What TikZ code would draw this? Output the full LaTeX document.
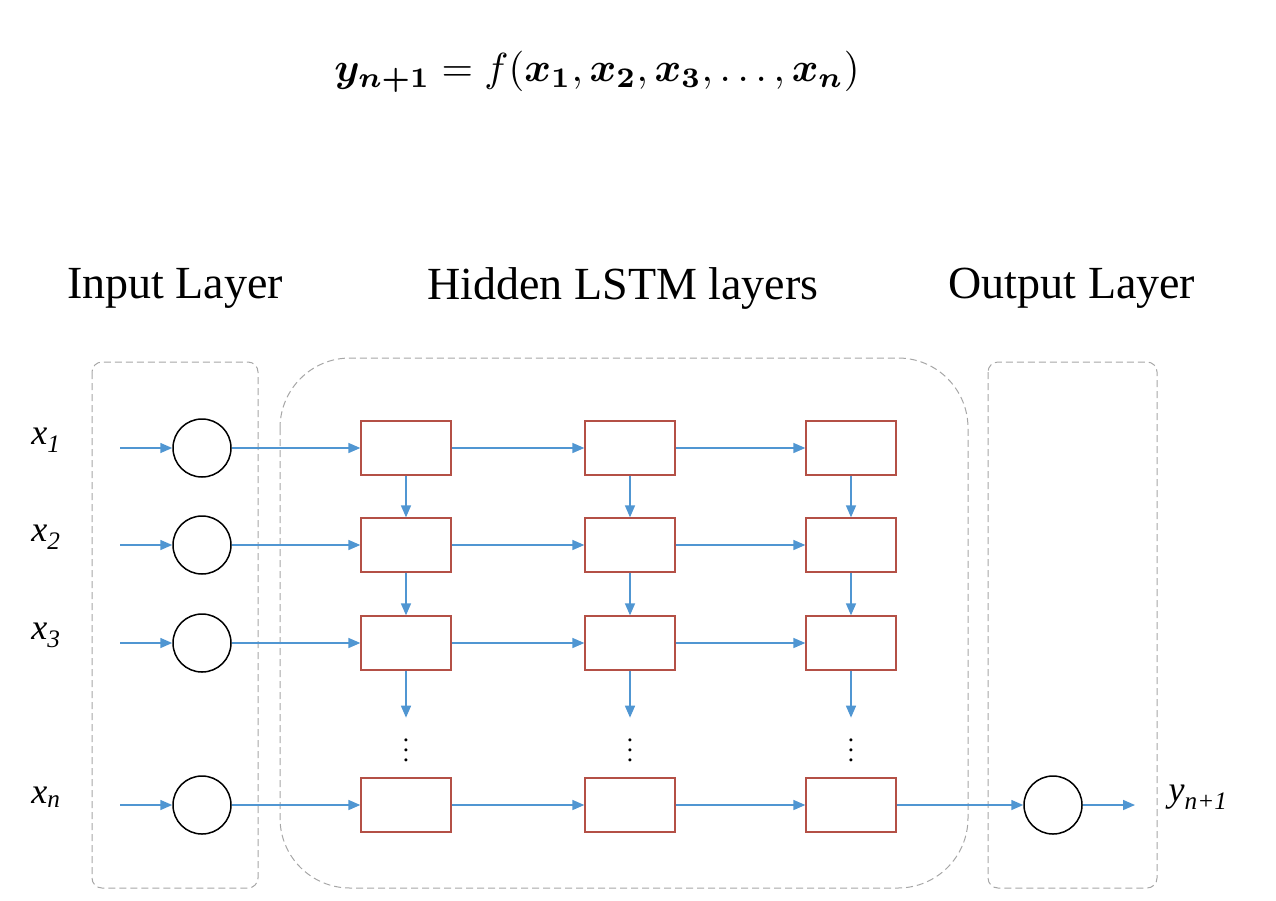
\documentclass[tikz,border=0pt]{standalone}
\usepackage{amsmath,bm}
\usepackage{fontspec}
\setmainfont{Liberation Serif}
\usetikzlibrary{arrows.meta,calc}
\definecolor{ab}{RGB}{80,150,210}
\definecolor{rb}{RGB}{180,80,70}
\begin{document}
\begin{tikzpicture}[x=1pt,y=-1pt,
 arr/.style={ab,line width=1.6pt,-{Triangle[length=12pt,width=10pt]}},
 cell/.style={draw=rb,line width=1.3pt,minimum width=90pt,minimum height=54pt,inner sep=0pt},
 neu/.style={circle,draw,line width=1.5pt,minimum size=58pt,inner sep=0pt},
 grp/.style={draw=gray!70,dash pattern=on 7pt off 4pt,line width=1pt},
 hd/.style={font=\fontsize{46}{52}\selectfont},
 lb/.style={font=\fontsize{36}{40}\selectfont\itshape}]
\useasboundingbox (0,0) rectangle (1276,900);
\node (eq) at (597,72) {\resizebox{525pt}{!}{$\bm{y_{n+1}} = f(\bm{x_1},\bm{x_2},\bm{x_3},\dots,\bm{x_n})$}};
\node[hd] (h1) at (175,288) {Input Layer};
\node[hd] (h2) at (623,288) {Hidden LSTM layers};
\node[hd] (h3) at (1072,288) {Output Layer};
\draw[grp,rounded corners=10pt] (92,362) rectangle (258,888);
\draw[grp,rounded corners=70pt] (280,358) rectangle (968,888);
\draw[grp,rounded corners=10pt] (988,362) rectangle (1157,888);
\foreach \r/\y/\t in {1/448/1,2/545/2,3/643/3,4/805/n}{
 \node[lb] (x\r) at (46,\y-8) {x\textsubscript{\t}};
 \coordinate (s\r) at (120,\y);
 \node[neu] (c\r) at (202,\y) {};
 \node[cell] (a\r) at (406,\y) {};
 \node[cell] (b\r) at (630,\y) {};
 \node[cell] (d\r) at (851,\y) {};
 \draw[arr] (s\r) -- (c\r);
 \draw[arr] (c\r) -- (a\r);
 \draw[arr] (a\r) -- (b\r);
 \draw[arr] (b\r) -- (d\r);
}
\foreach \c in {a,b,d}{
 \draw[arr] (\c1) -- (\c2);
 \draw[arr] (\c2) -- (\c3);
 \coordinate (\c e) at ($(\c3.south)+(0,47)$);
 \draw[arr] (\c3) -- (\c e);
 \node[inner sep=0pt] (\c dots) at ($(\c3.south)+(0,72)$) {\resizebox{!}{38pt}{$\vdots$}};
}
\node[neu] (o) at (1053,805) {};
\coordinate (oe) at (1135,805);
\draw[arr] (d4) -- (o);
\draw[arr] (o) -- (oe);
\node[lb] (y) at (1198,797) {y\textsubscript{n+1}};
\end{tikzpicture}
\end{document}
